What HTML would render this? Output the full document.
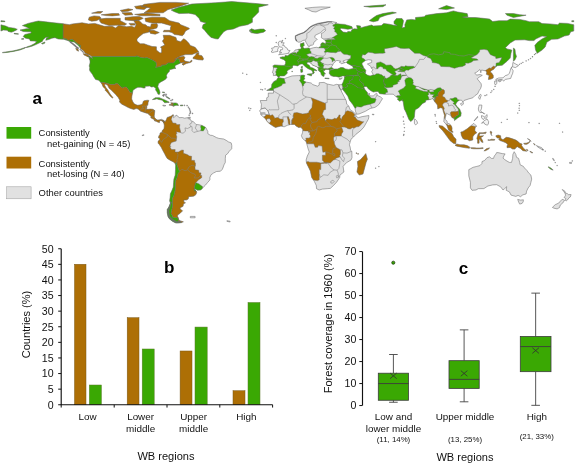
<!DOCTYPE html>
<html><head><meta charset="utf-8"><title>Forest transition figure</title>
<style>
html,body{margin:0;padding:0;background:#fff;}
body{width:575px;height:464px;overflow:hidden;position:relative;font-family:"Liberation Sans",Arial,sans-serif;color:#111;}
svg{position:absolute;left:0;top:0;}
text{font-family:"Liberation Sans",Arial,sans-serif;fill:#111;}
.t{font-size:9.42px}.c{font-size:9.9px}.ax{font-size:10.6px}.ttl{font-size:11.05px}.sm{font-size:7.86px}.b{font-size:17.1px;font-weight:bold;fill:#000}
</style></head><body>
<svg width="575" height="464" viewBox="0 0 575 464">
<rect width="575" height="464" fill="#fff"/>
<g id="map">
<defs><path id="lnd" d="M298.5 42.2 L300.4 42 L302.8 40.6 L304.2 40.1 L305.2 40.6 L306.1 42.5 L307.6 45 L308.1 46.3 L310 46.3 L310.4 45.2 L312.5 45.2 L313.5 44.2 L313.9 42.2 L316.3 40.3 L317.3 39.3 L315.7 38.2 L314.7 37.4 L315.2 35.3 L319.8 33.1 L321.9 31.7 L323.3 29.9 L324.9 29.8 L325.6 30.4 L324.3 31.7 L322.7 32.8 L321.1 33.8 L321.6 35 L321.3 37.7 L323.8 39.2 L326.4 39 L330.3 38.2 L333.5 38.2 L335.4 39.2 L331.9 39.6 L328 39.6 L324.8 40.3 L326 41.7 L325.6 43.8 L323.2 42.7 L321.9 42.8 L320.8 44.1 L320.8 46.5 L319.2 47.1 L318.4 47.9 L316.8 47.3 L313.6 47.7 L310.1 48.7 L308.9 47.9 L306.5 48.2 L304.6 48.5 L303 47.4 L303 46.5 L304.6 45 L303.8 44.6 L304.1 42.7 L303.3 42.8 L300.4 43.8 L300.4 46.2 L301.2 47.7 L300.9 49 L298.5 49.3 L295 50.1 L294.1 51.4 L293.1 52.5 L291.3 53.2 L289.9 54.1 L287.7 55.7 L285 55.5 L284.8 57 L282.6 56.8 L280 57.4 L280.2 58.2 L283.9 59.7 L285.6 61.3 L285.5 63.5 L284.5 65.4 L281.8 65.4 L278.6 65.2 L274.6 64.9 L272.7 65.9 L273.4 66.8 L273.4 69.2 L272.4 72.7 L273.4 73.2 L273.4 75.6 L276.2 75.3 L277.3 76.2 L278.5 77.2 L280.2 76 L284.2 75.9 L286.3 74.3 L287.4 72.9 L286.9 71.6 L288.2 70 L290.6 68.7 L292.5 67.8 L292.5 66 L293.7 65.2 L295.3 65.4 L297.7 65.9 L299.3 64.8 L300.9 64 L302.5 64 L303.8 65.2 L305.7 67 L308.1 68.7 L310.4 69.7 L312 70.6 L312.8 72.4 L312.4 74 L313.2 74 L314.4 72.5 L313.8 71.4 L314.4 70.2 L316.5 71 L316.7 70.3 L312.8 67.9 L310.4 67.3 L309.2 65.2 L307.1 64.1 L306.9 62.4 L309.2 61.9 L309.7 62.5 L311.2 63.6 L312.8 65.2 L316.8 66.8 L318.2 67.9 L318.4 70.5 L320.8 72.4 L321.1 74.3 L322.4 76 L324 76.4 L324.3 74.1 L325.6 74 L324.8 73.2 L323.7 71.6 L323.5 70.2 L324.8 70.5 L325.6 69.4 L328.7 69.5 L329.2 70 L331.1 69.4 L333.5 68.7 L331.9 67.8 L331.6 66.5 L332.7 65.2 L333.2 63.6 L334.6 62.5 L335.1 61.6 L336.7 60.5 L338.3 60.6 L340.7 61.3 L339.3 62.2 L340.7 62.9 L341.5 63.8 L343.9 63 L345.5 62.4 L343.5 62.2 L343.1 60.9 L345.5 60.1 L348.3 59.5 L349.4 59.5 L347.8 60.5 L346.3 62.4 L347.1 63.2 L349.4 64.4 L352.6 66.3 L353.4 68.4 L348.6 69.4 L345.5 68.9 L343.1 67.6 L340.7 67.6 L337.5 68.9 L334.3 69 L329.4 70.5 L329.5 71.6 L329.2 73.2 L330.8 75.6 L333.5 76.4 L335.9 76.4 L339.1 77.2 L342.3 76 L344.7 76 L344.3 78.8 L343.1 82.2 L341.8 84.6 L338.8 84.8 L339.1 86.9 L340.2 89.1 L342 90.2 L342.9 87.5 L343.1 89.9 L345.5 93.1 L347.8 96.2 L349.4 100.2 L352.6 104.2 L355 108.2 L355.5 111.3 L356.6 114.2 L359 114 L365.4 111.3 L370.1 108.5 L374.9 107.4 L377.3 105.8 L379.2 104.2 L380.5 101.8 L382.5 98.6 L380.5 96.9 L377.3 95.4 L377 93.9 L376.5 93.1 L373.3 95.9 L370.9 95.9 L369.5 95.4 L369.3 93.1 L368.2 94.7 L367.3 92.3 L366.1 91 L364.6 89.1 L363.8 87 L365 86.4 L366.9 86.7 L368.5 89.1 L370.9 90.7 L373.3 92.1 L376.5 91.5 L378.1 91.5 L379.7 93.7 L385.2 94.3 L389.2 94.2 L393.2 94.2 L394.5 95.4 L396.4 97 L398.8 98.1 L397.2 99.1 L399.6 101.3 L402.8 99.7 L402 101 L403.1 101 L403.5 104.2 L404.3 109 L405.9 112.1 L407.5 116.1 L408.8 119.3 L410.7 121.5 L413.1 119.6 L414.4 116.9 L414.7 112.9 L415.2 109.8 L418.7 107.8 L422.6 103.4 L425.5 102.1 L425.8 100.2 L429 99.7 L431.4 99.1 L433 98.6 L433.8 100.2 L435.4 102.6 L437.4 105 L437.8 109 L440.2 107.7 L442.5 108.2 L443 110.6 L444.5 115.3 L444.1 118.5 L443.8 121.7 L446 124.1 L447 125.7 L448.6 129.9 L451.9 132.3 L453.2 132.2 L451.9 130.4 L452.1 128 L451.3 125.7 L449.2 123.7 L447.3 123.3 L447 121.2 L445.2 119.3 L445.7 116.1 L446.5 113.1 L448.1 114.2 L450.5 115.3 L452.1 117.7 L454.2 118.5 L454.5 120.6 L457.7 117.9 L460.8 116.1 L461.2 112.9 L459.6 109 L456.9 106.6 L455.6 104.2 L457.2 101.8 L459.3 100.2 L461.6 100.2 L462.9 102.1 L464 100.5 L468.8 98.9 L472.8 97.8 L475.2 95.4 L477.6 93.9 L479.1 90.7 L480.7 88.3 L481.4 85.9 L481.2 83.8 L479.1 81.1 L477.2 78.8 L479.1 77.2 L482.3 75.3 L479.9 74.5 L476.8 75.1 L474.7 73.2 L476.8 72.1 L479.9 69.5 L481.2 72.4 L480.3 72.4 L481.5 70 L485.4 70.8 L486.8 71.9 L486.3 74.3 L489.2 75.6 L488.7 77.2 L488.4 79.5 L491.1 79.1 L493.2 78 L493.3 75.6 L491.9 73.2 L490.3 71.9 L491.1 70.8 L493.8 69.2 L495.4 67.1 L497.4 65.7 L502.2 65.2 L507 61.3 L510.2 58.1 L511 53.3 L511.8 50.1 L507 48.9 L505.4 47.7 L510.2 43 L515 40.1 L524.5 39.8 L529.3 40.6 L534.1 40.6 L535.6 39 L542 36.1 L546.8 36.6 L542 39 L537.2 42.5 L534.8 45.4 L535.6 50.1 L537.2 53.3 L542 50.1 L545.2 47 L546.8 42.2 L551.6 39.3 L557.9 39 L564.3 36.1 L569.1 35 L570.7 31.8 L573.8 31 L573.8 24.8 L567.5 23.4 L559.5 23.1 L557.9 24.7 L550 23.9 L542 23.6 L538.8 21.7 L529.3 21.7 L526.1 20.7 L519.7 19.4 L510.2 19.1 L507 20.7 L499 20.7 L492.7 21.5 L489.5 19.1 L483.1 18.3 L475.2 17.5 L467.2 17.5 L462.4 17.1 L468 16.7 L467.2 13.6 L457.7 12 L453.4 10.9 L446.5 12.8 L437 13.6 L425.8 15.2 L424.2 16.7 L415.5 17.5 L415.5 19.9 L411.5 19.4 L406.7 19.9 L404.8 24.7 L405.1 27.1 L402 27.9 L402.8 24.7 L403.5 20.7 L402 18.6 L396.4 18.6 L394 21.5 L394 23.7 L397.2 25.6 L394 25.3 L389.2 24.2 L383.7 23.4 L381.3 25.6 L373.3 26 L371.7 25 L363.8 26.9 L360.6 28 L360.6 26 L356.6 25.5 L357.4 29.1 L354.2 28.8 L351.8 29.8 L351 31.7 L347.8 31.4 L347.1 32.6 L343.1 32 L339.9 29 L341.5 28.3 L347.8 29.3 L352.6 28.5 L351.8 26.6 L344.7 24.4 L339.9 24.1 L335.1 23.6 L336.7 22.6 L331.9 21.5 L328 21.5 L322.4 22.6 L317.6 23.4 L312.8 25.2 L309.7 27.1 L306.5 30.3 L303.3 32.6 L298.5 34.2 L295.3 35.8 L295.3 39 L296.1 40.9Z M0.9 31 L3.3 30.1 L7.3 30.3 L8.1 31.4 L11.2 32.2 L12.8 31.8 L16 30.3 L17.3 29.3 L14.4 28.2 L8.9 27.4 L5.7 26 L0.9 24.8Z M278.6 54.7 L281.8 54.4 L285.8 53.8 L289.4 53 L288.6 52.4 L290.1 50.6 L287.8 50.1 L287.1 48.2 L285 47 L284.2 45.4 L282.6 45.4 L284.2 42.8 L281 42.7 L282.6 41.2 L279.4 41.2 L278.1 43 L278.6 45.4 L279.4 47 L281.8 47.1 L282.6 48.5 L282.3 49.7 L280.2 49.8 L280.7 51.2 L279.1 52 L281.8 52.7 L280.2 53.3Z M277.8 51.4 L277.7 49.3 L278.6 47.7 L277.3 46.6 L274.3 46.6 L273.8 47.9 L271.5 48.2 L272.3 49.7 L272.3 50.9 L271 51.7 L272.3 52.5 L274.6 52Z M251.6 32.8 L257.1 33.6 L263.5 32.2 L265.7 30.7 L263.8 29.1 L260.3 29.1 L254.7 29.9 L251.6 28.8 L249.2 30.3 L252.4 31.4 L249.5 31.4Z M307.3 74.6 L311.4 76 L312 73.7 L307.3 74Z M300.9 72.4 L302.6 72.1 L302.6 69.2 L300.6 69.2Z M301.2 67.9 L302.2 68.6 L302.5 66.3 L301.2 66.7Z M324.9 78.4 L329.1 78.8 L329.1 78.3 L324.9 78Z M339.3 79.2 L341.2 79.2 L342.3 77.8 L338.9 78.8Z M308.9 9.9 L312 11.5 L316 12 L320.8 9.7 L325.6 8.5 L330.3 7.2 L320.8 6.9 L312.8 7.4 L304.9 8.3Z M373.3 21.8 L378.1 20.7 L379.7 17.5 L386 15.2 L396.4 12.8 L392.4 12 L382.9 13.6 L376.5 15.5 L372.5 18.3 L369.3 20.7Z M370.1 7.2 L382.9 6.7 L386 4.8 L374.9 5.6 L363.8 6.4Z M446.5 9.6 L454.5 8 L446.5 5.6 L438.6 8.8Z M507 15.2 L513.4 17.5 L526.1 15.2 L519.7 14.7 L513.4 13.6 L505.4 13.6Z M513.4 53.3 L513.4 57.3 L513.4 61.3 L515 59.7 L516.5 56.5 L515.4 53.3 L515 49.3 L513.4 48.1Z M512.6 66.8 L515.3 67.6 L518.6 65.6 L515.8 64.1 L512.9 62.4 L512.6 66 L510.7 68.4Z M510.5 69.2 L510.2 70.8 L509.4 73.2 L507.8 74.9 L505.4 75.6 L503 77.8 L498.6 78 L495.9 79.2 L495.9 80.3 L498.2 79.9 L502.2 79.4 L503.5 81.1 L505.4 79.4 L508.6 78.8 L510.7 78.4 L511.5 75.9 L512.6 73.5 L513.2 70.8 L511.6 68.4Z M494.6 83.5 L495.4 85.1 L496.7 83.5 L497 81 L494.7 81Z M499 81.9 L500.9 81.3 L501.4 80 L498.2 80.3Z M479.6 95 L478.5 97.8 L479.8 99.4 L481.2 95.4 L480.7 94.3Z M461.6 105.5 L464 103.4 L463.2 102.6 L460.4 103.7Z M414.4 120.9 L414.4 123.3 L415.5 124.9 L417.6 123.3 L416.8 120.9 L414.7 118.8Z M478.8 106.6 L478.3 109 L478.8 111 L479.9 112.6 L482.3 112.5 L484.4 114 L484.7 113.7 L481.5 112.1 L480.7 110.6 L481.5 108.5 L481.9 105.1 L479.1 105Z M483.9 122.5 L484.7 124.1 L487.1 125.2 L488.2 124.4 L488.7 121.7 L487.1 119 L483.9 120.9 L481.5 123.3Z M481.5 117.4 L482.3 118.8 L483.6 119.6 L484.7 117.7 L486.3 118.5 L487.1 116.9 L487.1 114.5 L484.7 116.9 L483.1 116.1 L481.5 115.6Z M474.1 120.9 L477.6 117.7 L477.6 116.4 L475.2 119.3Z M461.3 135.2 L462.8 138.4 L464.8 139.5 L467.2 139.5 L469.6 140.8 L472.8 140 L472.8 136.8 L474.4 134.4 L476.8 132.8 L474.8 130.4 L475.2 127.6 L476.8 126.1 L474.7 124.4 L473.6 123.3 L472 124.9 L469.6 126.8 L467.2 128.8 L464.5 130.4 L462.4 131.7 L460.8 132Z M439.4 127.2 L442.5 130.4 L444.9 133.6 L447.8 137.6 L450.2 140.8 L453.7 143.5 L455.8 143.7 L456.1 139.2 L453.7 136.8 L452.1 133.6 L448.9 131.2 L446.5 129.6 L442.5 126.1 L439 125.5Z M456.9 146.2 L460.8 146.9 L465.6 147.8 L469.4 148.3 L469.6 146.9 L467.2 145.6 L464 144.8 L460 144.8 L456.9 144 L455 145.3Z M471.2 148.5 L473.6 148.8 L478.3 148.8 L483.1 148.5 L483.1 147.7 L479.9 148 L476.8 148 L473.6 147.7 L470.4 147.7Z M485.5 150.7 L488.7 149.1 L489.5 147.8 L486.3 148.8 L483.9 150.9Z M479.1 143.2 L479.1 140 L479.9 138.7 L480.7 140.8 L481.5 142.1 L483.1 142.4 L482.3 140 L480.7 137.6 L481.5 137.3 L483.6 135.7 L480.7 136 L479.1 135.7 L479.9 133.6 L485.5 133.6 L486.3 132 L483.1 132.8 L479.1 132.8 L478 134.4 L476.8 138.4 L477.6 140 L477.6 143.2Z M490.3 132.8 L490.8 133.6 L491.9 135.7 L491.1 134.4 L491.9 132 L490.3 131.2Z M487.9 140.3 L491.1 140.2 L494.3 140.2 L495.1 139.5 L491.1 139.2 L490 140 L487.9 139.7Z M495.9 136.5 L497.4 137.9 L499.8 138.1 L498.6 138.9 L499.8 140.5 L503 141.6 L506.2 142.9 L508.3 145.3 L507 145.6 L507 147.7 L510.2 147.5 L512.6 149.1 L515 149.1 L515.8 147.7 L517.3 146.7 L520.5 148.5 L522.9 150.7 L526.9 151.3 L526.1 150.4 L523.7 148.5 L521.6 145.6 L522.1 144 L519.7 143.2 L518.1 141.6 L515.8 140 L511.8 138.6 L508.6 137.6 L506.2 137.3 L503 139.7 L500.9 138.4 L500.6 135.7 L498.2 135 L495.9 135.7Z M524.5 144.3 L526.9 144.3 L529.3 142.7 L529.8 141.1 L528.5 142.4 L526.1 143.2 L523.7 143.3Z M529.3 139.8 L530.9 141.6 L530.1 140 L527.4 138.6Z M526.6 149.9 L527.7 150.7 L528.2 150.2 L526.6 149.3Z M530.1 151.8 L531.7 152.8 L532.9 152.8 L531.2 151.8 L529.9 151.2Z M534.5 145.1 L535.3 145.1 L533.6 143.2Z M468.8 169.6 L468.8 175.9 L470.4 182.3 L470.4 187.9 L472 190.3 L476 190 L478.3 188.7 L483.9 188.6 L487.9 186 L492.7 184.9 L496.7 184.7 L500.6 186.8 L503 190 L504.6 188.7 L506.7 186.7 L506.2 190.3 L507.8 191.1 L509.4 191.9 L511 195.1 L515.8 196.4 L518.1 195.4 L520.5 196.7 L522.9 194.8 L526.1 194 L526.6 191.1 L528.2 187.9 L530.1 185.5 L530.9 182.3 L531.7 179.1 L530.9 175.1 L528.5 172.8 L526.9 170.4 L524.5 168 L523.4 166.4 L520.2 164.8 L519.7 162.4 L518.6 158.4 L516.5 157.3 L515.8 154.4 L514.2 151.7 L512.9 154.4 L512.6 158.4 L511.5 162.4 L509.4 162.4 L507 161.1 L504.6 159.5 L503 158.1 L503.8 156 L505.1 153.9 L502.2 153.6 L499 152.8 L496.7 152.5 L495.9 154.1 L494.3 156 L493.5 158.4 L491.4 158.4 L489.5 156.8 L487.1 157.6 L484.7 160.4 L482 161.6 L481.9 163.5 L479.9 165.6 L476.8 166.4 L473.1 167.3 L470.4 168.8Z M518.6 202 L519.7 204.1 L522.1 203.4 L523.2 201.8 L523.4 199.8 L520.5 200.1 L517.7 199.4Z M563.5 191.1 L565.4 194 L565.4 195.9 L564 197.4 L565.9 198.6 L565.4 200.4 L566.2 200.9 L567.5 199.9 L569.1 197.7 L570.3 197 L571.1 194.6 L568.3 194.6 L567.2 193.5 L565.6 193.2 L564.8 191.1 L562.2 189.5Z M560.3 201.2 L558.7 203.1 L555.2 204.7 L552.4 207.4 L553.9 208.2 L557.1 208.9 L559.5 207.6 L560.3 205 L562.7 203.1 L564.6 200.2 L562.2 199.3Z M548.4 167.2 L550 168.8 L552.4 170 L553.2 170 L550.8 168 L548.4 166.7Z M569.5 163.3 L571.5 163.5 L571.6 162.4 L569.5 162.4Z M553.6 160.4 L554.4 160.8 L553.5 158.7 L552.5 158.4Z M538 147.2 L542 149.6 L543.6 150.1 L541.7 147.7 L536.4 145.6Z M276.5 80.2 L273.8 81.5 L271.8 84.3 L271.5 87.5 L266.7 90.4 L273.5 90.4 L273.5 93.1 L268.3 93.1 L268.3 97 L266.7 97.8 L266.7 100.5 L260.3 100.5 L260.3 101 L261.4 104.2 L261.1 109 L259.5 111 L260.6 112.1 L260.8 114.8 L263.5 116.9 L265.6 119.1 L266.7 120.9 L269.1 123.4 L273 126.1 L275.4 127.4 L281 126.1 L284.2 126.8 L287.4 125.3 L290.6 124.4 L294.5 124.4 L296.1 126.1 L298.5 127.4 L300.9 127.2 L302.8 129.6 L302.5 132.8 L301.4 135.7 L302.5 138.4 L306.1 141.6 L306.8 144 L308.1 148.8 L309.3 152 L307.3 156 L306.1 160 L306.5 163.2 L308.9 168 L310.4 171.2 L311.7 177.5 L314.4 181.5 L316.3 185.5 L316.5 188.7 L319.2 190 L322.4 189.1 L327.2 188.7 L330.3 188.4 L333.5 185.5 L336.7 182 L339.7 177.5 L339.9 175.1 L343.9 172 L343.1 166.4 L346.3 162.8 L351 160 L352 157.6 L351.8 151.2 L350.6 150.4 L350.2 147.2 L349.4 144.8 L350.2 141.9 L351 139.2 L353.4 137.1 L355.8 134.4 L360.6 130.7 L363.8 127.2 L366.6 122.3 L368.2 119.5 L368.7 117.9 L368.9 115.5 L362.2 116.6 L358.2 117.7 L355.8 116.1 L356.1 114.4 L352.6 111.3 L350.2 109.8 L348.6 105.8 L346.7 104.2 L346.3 101 L343.9 96.2 L340.7 89.9 L339.1 86.9 L338.8 84.8 L336.7 84.3 L333.5 85.3 L327.2 84 L324 82.4 L319.2 82.7 L319.2 85.1 L317.6 86.2 L312.8 84.6 L311.2 83 L306.5 82.2 L304.9 81.6 L303.3 80.3 L304.9 78.8 L304.2 77.5 L304.9 75.6 L303.3 75.1 L298.5 75.6 L292.1 75.9 L287.4 77.5 L284.2 78.6 L278 77.5Z M363.8 156 L360.6 159.6 L357.4 161.6 L357.9 166.4 L356.9 172 L359.3 175.1 L363 174 L366.1 162.4 L367.4 159.2 L365.8 153.6Z M23.2 31.5 L28 31.8 L31.1 31.8 L31.1 33.1 L27.2 33.9 L24.8 34.5 L23.2 36.6 L25.6 38.2 L29.5 39 L30.3 40.9 L34.3 41.1 L36.7 41.4 L35.1 43.3 L31.1 45.4 L28 46.5 L25.1 47.7 L28 47.3 L31.9 46.2 L35.9 44.6 L39.1 43 L42.3 41.4 L43.1 39.8 L45.5 37.4 L48.6 37.1 L46.3 38.2 L45.8 40.3 L49.4 39.3 L51.8 38.2 L55 37.7 L58.2 39 L63.8 39.3 L67.7 40.6 L70.1 41.7 L74.1 41.9 L77.3 44.6 L79.7 47 L80.5 48.5 L83.7 50.9 L85.2 53.3 L89.2 54.9 L91.9 56.5 L92.4 58.9 L91.6 57.6 L88.9 57.6 L90 60.8 L90 62.9 L89.2 66 L89.7 67.6 L89.5 70 L90.3 71.6 L92.4 74.3 L93.5 76.4 L95.6 79.5 L98.8 80.3 L101 82.7 L102 84.3 L103.2 87 L105.5 89.1 L105.1 90.2 L106.7 91.8 L108.6 93.9 L109.9 95.8 L112.3 98 L113.1 97.5 L111.8 96.2 L110.7 94.7 L109.1 92.3 L107.8 89.9 L105.9 87.5 L104.7 85.4 L104.8 83.8 L107.5 85.1 L109.1 88.3 L111.5 90.2 L113.4 92.3 L115.5 94.3 L118.2 97.5 L119.8 100.2 L119.5 102.1 L121.9 104.2 L125 105.8 L128.2 107.5 L130.6 108.5 L133.8 109.4 L136.2 108.6 L138.1 109 L140.6 111.2 L143.7 112.3 L145.7 112.9 L147.8 113.4 L148.9 114.4 L151 116.6 L150.8 117.7 L152.1 118.5 L154.2 119.6 L154.5 120.9 L156.1 121.2 L158 122.2 L159.6 122.6 L159.6 121.2 L160.8 120.4 L162.8 121.4 L163.6 122.8 L164.3 120.9 L164 120.6 L161.6 119.3 L160 119.8 L157.7 120.1 L156.1 119.3 L154.5 117.5 L154.2 116.1 L154.5 113.7 L154.8 110.6 L152.9 109.3 L150.5 109.1 L148.1 109.3 L146 109.1 L146.8 108.2 L146.8 105.3 L147.8 105.3 L148.1 102.6 L148.9 100.4 L147.3 100.2 L144.1 100.7 L143.3 101.3 L142.5 103.9 L141 104.7 L137.8 105.3 L136.2 104.8 L134.1 103.7 L132.7 101.5 L131.7 98.9 L131.9 96.2 L132.5 93.1 L133 90.2 L135.4 88.6 L137.8 87.3 L141 87.3 L143.3 88 L145.2 88 L144.9 86.4 L146.5 86.2 L149.7 86.1 L151.3 87 L153.7 86.7 L155.8 88.3 L155.6 89.9 L156.9 91.8 L158.1 94.3 L159.6 94.3 L160 92.3 L159.3 89.9 L157.8 86.7 L158.5 83.8 L160.8 81.9 L163.2 80.7 L165.6 79.2 L166.9 77.5 L166.4 75.6 L167.5 73.2 L169.3 71.6 L169.6 69.8 L173.6 68.7 L176 68.3 L174.9 67.6 L175.2 65.6 L177.6 64.4 L180.7 62.9 L184.7 62.4 L182 64 L183.1 65.2 L186.3 63.6 L190.3 62.5 L191.9 61.6 L191.9 60 L189.5 61.9 L187.1 61.6 L184.7 60.9 L183.9 59.4 L185 57.8 L183.9 56.2 L179.1 57.1 L174.4 59.8 L176.8 58.1 L180.7 56 L185.5 54.6 L191.9 54.6 L196.7 52.8 L198.7 51.7 L196.7 49.3 L195.1 47.3 L190.3 45.4 L188.7 43 L185.5 39.8 L183.6 38.7 L180.7 41.7 L176.8 40.6 L176 37.4 L169.6 35.3 L163.2 35.3 L164 39 L162.4 41.1 L164.8 44.9 L160.5 47 L161.6 48.5 L161.6 52.5 L160 53 L158.5 51.7 L156.4 50.1 L156.4 46.8 L152.1 46.5 L147.3 44.9 L144.1 43.8 L140.2 43.8 L137 40.9 L137 39 L139.4 36.6 L143.3 33.4 L147.3 32.6 L149.7 31.8 L150.5 29.5 L153.7 29 L156.9 27.9 L157.7 25.5 L156.9 23.6 L151.3 23.9 L150.5 27.1 L147.3 26.3 L145.7 24.7 L142.5 23.9 L141 22.3 L137.8 19.9 L133.8 20.7 L136.2 24.7 L134.6 27.4 L131.4 26.3 L126.6 26.8 L118.7 25.5 L115.5 27.9 L112.3 26.3 L104.3 26.3 L94.8 23.4 L88.4 23.9 L82.1 22.8 L72.5 23.9 L69.3 24.7 L63 23.7 L51.8 22.6 L45.5 21.8 L38.3 21 L35.9 21.5 L28 23.4 L22.4 25.6 L26.4 27.1 L29.5 28.7 L26.4 28.7 L20 30.1Z M25.1 47.4 L20 49.2 L13.6 50.8 L7.3 51.7 L2.5 52.4 L2.5 52.8 L7.3 52.4 L13.6 51.4 L20 50 L24.8 48.2Z M42.6 44.1 L45 43 L44.7 41.9 L41.5 43.5Z M21.6 39.3 L23.7 39.3 L23.7 38.4 L21.6 38.7Z M14.1 33.9 L18.4 34.2 L18.4 33.8 L14.1 33.3Z M84 54.9 L88.4 57 L90.8 57.6 L90.8 57.1 L87.6 54.4 L83.2 53.6Z M76.8 50.4 L78.6 51.2 L77.8 48.5 L75.7 48.5Z M193 58.6 L198.2 59.7 L203 60.1 L203.5 58.6 L201.9 55.7 L198.6 54.9 L199 52.5 L196.7 53.3 L195.1 55.7 L193 57.6Z M158.5 17.2 L152.1 17.2 L144.9 18.3 L145.7 21.5 L152.1 23.1 L155.3 23.1 L161.6 23.1 L164.8 23.9 L171.2 25.8 L170.4 27.9 L170.4 30.3 L164 30.3 L163.2 31.8 L168.8 31.8 L172 32.6 L174.4 34.5 L178.4 35 L182.3 35.8 L183.9 34.2 L185.5 31 L189.5 28.7 L188.7 27.9 L180.7 24.7 L179.1 23.1 L169.6 20.7 L164.8 17.5 L159.3 17.2Z M101.2 23.1 L109.1 25.5 L115.5 25.2 L125 25.2 L126.6 23.9 L123.4 22.3 L120.3 20.7 L120.3 18.3 L115.5 18.3 L105.9 18.3 L99.6 19.1 L99.6 21Z M88.4 19.9 L91.6 21.2 L96.4 20.7 L101.2 18.3 L99.6 16.4 L94 15.9 L89.2 17.2Z M144.1 12.8 L163.2 12.8 L168 9.6 L179.1 6.4 L188.7 3.2 L176 2.4 L160 2.4 L144.1 4.3 L141 6.4 L150.5 8 L147.3 10.4Z M136.2 8.8 L144.1 9.6 L147.3 7.2 L141 5.6 L134.6 6.4Z M141 15.8 L160 15.8 L160 14.4 L147.3 13.1 L134.6 14.4Z M105.9 15.6 L112.3 15.9 L119.5 15.2 L118.7 13.6 L112.3 13.6 L101.2 14.8Z M125 15.2 L133 14.8 L131.4 12.6 L121.9 12.8Z M100.4 13.2 L102.8 11.5 L98 11.5 L91.6 13.2Z M121.9 11.7 L128.2 11.2 L133 9.6 L128.2 8.8 L120.3 10.4Z M150.5 33.4 L155.3 34.2 L159.3 32.6 L153.7 30.3 L148.9 30.3Z M125 19.9 L133 20.7 L139.4 20.2 L143.3 18.3 L139.4 16.4 L133 16.7 L125 17.5Z M130.6 25.2 L135.4 25 L134.6 23.4 L129 23.4Z M174.4 11.7 L179.1 13.6 L188.7 13.2 L195.1 14.4 L199 18.3 L200.6 21.5 L206.2 23.1 L203 24.7 L202.2 27.9 L204.6 30.3 L207.8 34.2 L211 37.4 L215.8 38.8 L218.1 39 L220.5 35.8 L223.7 31.8 L226.9 29.9 L233.3 29 L239.6 26.3 L247.6 24.7 L252.4 22.3 L252.4 18.3 L255.5 15.2 L258.7 12 L258.7 7.2 L268.3 4.8 L252.4 3.2 L231.7 1.6 L215.8 2.7 L191.9 4 L179.1 7.2 L171.2 10.1Z M154.5 99.4 L156.9 98.8 L158.5 99.4 L162.4 100.2 L163.6 101.8 L164.8 102.8 L169.3 102.3 L168 101.5 L164.8 99.9 L159.3 97.7 L155.3 97.8 L152.4 99.6Z M169 105.1 L172 105.5 L173.3 106.3 L176 105.3 L178.5 105.5 L177.6 103.7 L176 102.9 L173.3 102.9 L170.7 102.8 L171.7 104.2 L169.1 104.8Z M162.9 105.8 L164.8 106.1 L165.9 105.6 L162.8 105.1Z M180.4 105.8 L182.6 105.8 L183 105.1 L180.4 105Z M188.9 118.3 L190.3 118.3 L190.3 117.2 L188.9 117.4Z M162.4 92.4 L164.5 92.7 L164.5 92.1 L162.4 91.9Z M162.9 95.9 L163.9 96.2 L163.9 94.8 L162.9 94.7Z M163.6 122.8 L164 123.7 L164.3 125.7 L164 128.8 L162.4 130.3 L161.8 132.2 L160 133.1 L159.9 134.4 L158.8 136 L158.5 137.9 L160 138.4 L159.6 139.8 L158 141.3 L158.1 143.2 L159.3 144.5 L161.2 147.2 L162.8 150.4 L164.5 153.6 L165.9 156.3 L167.2 158.4 L170.4 160.4 L173.6 162 L175.3 163.8 L175.6 165.6 L175.5 169.6 L175.2 175.1 L173.9 179.1 L173.6 182.3 L173.3 187.1 L171.7 191.1 L170.4 193.8 L170.1 197.5 L169.6 200.7 L170.4 203.1 L168.8 207.1 L167.2 209.5 L167.2 212.7 L168 216.7 L169.6 219.1 L172.8 221.5 L176 223.1 L178.4 223.1 L181.5 222.6 L183.4 221.8 L179.9 220.7 L178.4 219.1 L178.5 218 L177.6 216.7 L177.6 215.1 L179.9 213.5 L182.6 210.8 L180.7 209.5 L179.9 207.9 L183.1 206.3 L183.4 203.9 L185.5 202.8 L183.9 202 L183.9 199.9 L186.3 200.1 L188.2 199.1 L188.7 196.7 L193.5 196.2 L195.5 195.1 L196.7 192.7 L196.3 191.1 L194.4 189.5 L194.6 188.7 L197.5 190.2 L200.6 190 L202.2 188.7 L204.1 186.3 L205.4 185.2 L207.8 182.3 L209.9 179.9 L209.9 177.5 L211 174.8 L213.4 173.1 L216.5 171.5 L220.5 171.2 L222.1 169.6 L222.9 168 L224 164.8 L225.3 162.4 L225.3 158.4 L225.6 155.2 L227.7 153.6 L229.3 151.2 L231.7 148.8 L231.8 145.6 L231.2 142.9 L228.5 141.9 L226.1 140.3 L223.7 139 L218.9 138.4 L216.5 137.6 L212.6 135.5 L210.2 135.2 L207.8 133.6 L207.8 131.5 L205.9 127.7 L204.6 126.8 L202.2 125.5 L199.8 124.9 L195.9 124.4 L193.5 121.7 L191.1 120.9 L190.3 119.3 L187.9 118.5 L188.7 117.4 L184.7 118.2 L182.3 117.5 L179.1 117.7 L178.4 116.6 L176 115 L176 115.6 L173.6 117.7 L173.3 116.9 L173.9 115 L172.8 114.8 L171.2 116.1 L168.8 116.9 L167.2 117.4 L166.4 119.6 L165.1 121.7 L164.3 120.9Z M190.3 217.8 L195.1 217.8 L195.1 216.4 L190.3 216.4Z M226.9 221.3 L230.1 222 L230.1 221.2 L226.9 220.7Z M162.9 96.1 L163.9 96.2 L163.9 95.5 L162.8 95.3Z M165.5 96.2 L166.4 96.4 L166.5 95.7 L165.4 95.4Z M166.6 97.4 L167.5 97.5 L167.6 96.8 L166.5 96.6Z M167.5 98.1 L168.5 98.3 L168.6 97.6 L167.5 97.4Z M168.8 98.9 L169.8 99.1 L169.8 98.4 L168.7 98.1Z M170.6 100.9 L171.5 101 L171.6 100.3 L170.5 100.1Z M172 100.1 L172.9 100.2 L173 99.5 L171.9 99.3Z M163.9 94.8 L164.8 95 L164.9 94.3 L163.8 94Z M165.6 94.7 L166.6 94.8 L166.7 94.1 L165.5 93.9Z M184 105.7 L184.8 105.7 L184.8 105 L184 104.9Z M186.7 106 L187.5 106 L187.5 105.3 L186.7 105.2Z M188 107.6 L188.8 107.6 L188.8 106.9 L188 106.8Z M188.9 109 L189.7 109 L189.7 108.3 L188.9 108.2Z M189.4 110.3 L190.2 110.3 L190.2 109.6 L189.4 109.5Z M189.9 111.6 L190.7 111.6 L190.7 110.9 L189.9 110.8Z M190 112.7 L190.8 112.7 L190.8 112 L190 111.9Z M189.6 113.8 L190.4 113.8 L190.4 113.1 L189.6 113Z M188.8 115.6 L189.6 115.6 L189.6 114.8 L188.8 114.8Z M192.1 113.8 L192.9 113.8 L192.9 113.1 L192.1 113Z M519.1 64.5 L519.7 64.5 L519.7 64 L519.1 64Z M520.8 63.6 L521.5 63.6 L521.5 63.1 L520.8 63.1Z M522.6 62.6 L523.2 62.6 L523.2 62.1 L522.6 62.1Z M525.8 61.2 L526.4 61.2 L526.4 60.7 L525.8 60.7Z M528.2 60.1 L528.8 60.1 L528.8 59.6 L528.2 59.6Z M530.2 58.8 L530.9 58.8 L530.9 58.3 L530.2 58.3Z M532.1 57.1 L532.8 57.1 L532.8 56.6 L532.1 56.6Z M534.2 54.8 L534.8 54.8 L534.8 54.3 L534.2 54.3Z M535.5 54 L536.1 54 L536.1 53.5 L535.5 53.5Z M494.7 86.5 L495.4 86.5 L495.4 86 L494.7 86Z M493.5 89.7 L494.1 89.7 L494.1 89.1 L493.5 89.1Z M491.6 91.2 L492.2 91.2 L492.2 90.7 L491.6 90.7Z M490.6 92.7 L491.2 92.7 L491.2 92.2 L490.6 92.2Z M486.5 95.2 L487.1 95.2 L487.1 94.7 L486.5 94.7Z M484.7 95.9 L485.4 95.9 L485.4 95.3 L484.7 95.3Z M275.9 36.1 L276.5 36.1 L276.5 35.6 L275.9 35.6Z M285 38.8 L285.6 38.8 L285.6 38.3 L285 38.3Z M282.3 40.8 L282.9 40.8 L282.9 40.3 L282.3 40.3Z M275.9 42.8 L276.5 42.8 L276.5 42.2 L275.9 42.2Z M291.8 71.7 L292.5 71.7 L292.5 71.2 L291.8 71.2Z M262.2 90.1 L262.9 90.1 L262.9 89.6 L262.2 89.6Z M260.6 89.7 L261.3 89.7 L261.3 89.1 L260.6 89.1Z M264.8 89.2 L265.4 89.2 L265.4 88.7 L264.8 88.7Z M249.5 110.6 L250.1 110.6 L250.1 110.1 L249.5 110.1Z M248.5 108.3 L249.2 108.3 L249.2 107.8 L248.5 107.8Z M250.4 108.9 L251.1 108.9 L251.1 108.4 L250.4 108.4Z M246.5 74.6 L247.1 74.6 L247.1 74 L246.5 74Z M242.5 73.4 L243.1 73.4 L243.1 72.9 L242.5 72.9Z M260 82.7 L260.6 82.7 L260.6 82.2 L260 82.2Z M434.7 114.8 L435.4 114.8 L435.4 114.3 L434.7 114.3Z M434.9 116.2 L435.5 116.2 L435.5 115.7 L434.9 115.7Z M435.9 121.9 L436.5 121.9 L436.5 121.4 L435.9 121.4Z M436.3 123.5 L437 123.5 L437 123 L436.3 123Z M402.9 117.2 L403.5 117.2 L403.5 116.7 L402.9 116.7Z M403.2 121.5 L403.9 121.5 L403.9 120.9 L403.2 120.9Z M403.7 124.3 L404.3 124.3 L404.3 123.8 L403.7 123.8Z M404 128 L404.7 128 L404.7 127.5 L404 127.5Z M403.9 131.5 L404.5 131.5 L404.5 131 L403.9 131Z M403.5 134.7 L404.2 134.7 L404.2 134.1 L403.5 134.1Z M403.4 135.6 L404 135.6 L404 135.1 L403.4 135.1Z M378.6 166.9 L379.2 166.9 L379.2 166.4 L378.6 166.4Z M375.4 168.4 L376 168.4 L376 167.9 L375.4 167.9Z M356 153.4 L356.6 153.4 L356.6 152.8 L356 152.8Z M357.7 154.2 L358.4 154.2 L358.4 153.6 L357.7 153.6Z M375.4 142 L376 142 L376 141.5 L375.4 141.5Z M518.9 110.5 L519.6 110.5 L519.6 110 L518.9 110Z M519.1 106 L519.7 106 L519.7 105.5 L519.1 105.5Z M517.5 113.3 L518.1 113.3 L518.1 112.8 L517.5 112.8Z M518.8 108.4 L519.4 108.4 L519.4 107.9 L518.8 107.9Z M518.9 103.6 L519.6 103.6 L519.6 103.1 L518.9 103.1Z M501.1 122.7 L501.7 122.7 L501.7 122.2 L501.1 122.2Z M506.8 119.5 L507.5 119.5 L507.5 119 L506.8 119Z M528.6 122.9 L529.3 122.9 L529.3 122.4 L528.6 122.4Z M538.8 123.7 L539.5 123.7 L539.5 123.2 L538.8 123.2Z M142.2 135.6 L142.9 135.6 L142.9 135.1 L142.2 135.1Z M143.3 135.3 L144 135.3 L144 134.8 L143.3 134.8Z M554.9 162.9 L555.5 162.9 L555.5 162.4 L554.9 162.4Z M556.8 165.8 L557.4 165.8 L557.4 165.3 L556.8 165.3Z M542.5 150 L543.1 150 L543.1 149.5 L542.5 149.5Z M544.9 151.4 L545.5 151.4 L545.5 150.9 L544.9 150.9Z M559.2 123.5 L559.8 123.5 L559.8 123 L559.2 123Z M562.4 132.3 L563 132.3 L563 131.8 L562.4 131.8Z M571.9 161.2 L572.6 161.2 L572.6 160.7 L571.9 160.7Z M372.4 114.7 L373.9 114.8 L374.1 114.4 L372.2 114.2Z M0.9 21.7 L4.9 21.7 L4.9 21 L0.9 20.7Z M571.8 21.7 L573.8 21.7 L573.8 20.7 L571.8 20.7Z"/><clipPath id="lc"><use href="#lnd"/></clipPath></defs>
<use href="#lnd" fill="#e1e1e1" stroke="none"/>
<path d="M278.6 54.7 L281.8 54.4 L285.8 53.8 L289.4 53 L288.6 52.4 L290.1 50.6 L287.8 50.1 L287.1 48.2 L285 47 L284.2 45.4 L282.6 45.4 L284.2 42.8 L281 42.7 L282.6 41.2 L279.4 41.2 L278.1 43 L278.6 45.4 L279.4 47 L281.8 47.1 L282.6 48.5 L282.3 49.7 L280.2 49.8 L280.7 51.2 L279.1 52 L281.8 52.7 L280.2 53.3Z M277.8 51.4 L277.7 49.3 L278.6 47.7 L277.3 46.6 L274.3 46.6 L273.8 47.9 L271.5 48.2 L272.3 49.7 L272.3 50.9 L271 51.7 L272.3 52.5 L274.6 52Z M510.7 68.4 L512.6 66 L512.9 62.4 L515.8 64.1 L518.6 65.6 L515.3 67.6 L512.6 66.8Z M511.6 68.4 L513.2 70.8 L512.6 73.5 L511.5 75.9 L510.7 78.4 L508.6 78.8 L505.4 79.4 L503.5 81.1 L502.2 79.4 L498.2 79.9 L495.9 80.3 L495.9 79.2 L498.6 78 L503 77.8 L505.4 75.6 L507.8 74.9 L509.4 73.2 L510.2 70.8 L510.5 69.2Z M494.7 81 L497 81 L496.7 83.5 L495.4 85.1 L494.6 83.5Z M498.2 80.3 L501.4 80 L500.9 81.3 L499 81.9Z M480.7 94.3 L481.2 95.4 L479.8 99.4 L478.5 97.8 L479.6 95Z M460.4 103.7 L463.2 102.6 L464 103.4 L461.6 105.5Z M414.7 118.8 L416.8 120.9 L417.6 123.3 L415.5 124.9 L414.4 123.3 L414.4 120.9Z M479.1 105 L481.9 105.1 L481.5 108.5 L480.7 110.6 L481.5 112.1 L484.7 113.7 L484.4 114 L482.3 112.5 L479.9 112.6 L478.8 111 L478.3 109 L478.8 106.6Z M481.5 123.3 L483.9 120.9 L487.1 119 L488.7 121.7 L488.2 124.4 L487.1 125.2 L484.7 124.1 L483.9 122.5Z M481.5 115.6 L483.1 116.1 L484.7 116.9 L487.1 114.5 L487.1 116.9 L486.3 118.5 L484.7 117.7 L483.6 119.6 L482.3 118.8 L481.5 117.4Z M474.1 120.9 L477.6 117.7 L477.6 116.4 L475.2 119.3Z" fill="#f3f3f3" stroke="none"/>
<g clip-path="url(#lc)">
<path d="M63 19.9 L63 38.5 L66.2 39 L68.5 40.7 L70.1 39.8 L72.5 39.5 L74.9 41.4 L77.3 43.8 L80.5 45.4 L80.5 47.4 L74.1 47.7 L74.1 53.3 L86.8 57.8 L91.1 57.6 L91.1 56.5 L135.9 56.5 L136.7 55.9 L141 57.6 L144.9 58.1 L146.8 57.6 L152.4 60 L154.5 61.3 L156.1 62.4 L156.4 66 L155.3 67.6 L161.6 66.3 L161.6 65.2 L165.6 64.9 L168 62.9 L173.6 62.9 L175.5 60.8 L177.2 59 L179.1 59.2 L179.5 61.6 L180.7 63.2 L183.9 67.6 L207.8 64.4 L207.8 47 L195.1 35.8 L195.1 26.3 L183.9 19.9 L172.8 13.6 L168 11.2 L172.8 8.8 L182.3 6.1 L191.9 3.5 L191.9 -0.8 L80.5 -0.8 L80.5 19.9Z" fill="#ad6f05" stroke="#6a6a6a" stroke-width="0.45"/>
<path d="M86.8 56.5 L135.9 56.5 L136.7 55.9 L141 57.6 L144.9 58.1 L146.8 57.6 L152.4 60 L154.5 61.3 L156.1 62.4 L156.4 66 L155.3 67.6 L161.6 66.3 L161.6 65.2 L165.6 64.9 L168 62.9 L173.6 62.9 L175.5 60.8 L177.2 59 L179.1 59.2 L179.5 61.6 L180.7 63.2 L183.9 66 L179.1 74 L169.6 86.7 L161.6 96.2 L156.9 96.2 L153.7 89.9 L144.1 89.9 L134.6 93.9 L132.7 93.2 L129.8 92.3 L129 90.7 L126.6 87.3 L124.2 87 L123.1 88.3 L121.1 87.2 L117.9 83.8 L115.2 83.8 L115.2 84.6 L110.7 84.6 L104.7 82.7 L101 82.7 L98 83.5 L86.8 70.8Z" fill="#3aa803" stroke="#6a6a6a" stroke-width="0.45"/>
<path d="M63 21.5 L63 38.5 L66.2 39 L68.5 40.7 L70.1 39.8 L72.5 39.5 L74.9 41.4 L77.3 43.8 L80.5 45.4 L80.5 47.4 L74.1 47.7 L64.6 42.2 L48.6 45.4 L32.7 51.7 L0.9 54.9 L0.9 45.4 L16.8 39 L12 34.2 L19.2 29.5 L20 23.1 L40.7 19.1Z" fill="#3aa803" stroke="#6a6a6a" stroke-width="0.45"/>
<path d="M98 83.5 L101 82.7 L104.7 82.7 L110.7 84.6 L115.2 84.6 L115.2 83.8 L117.9 83.8 L121.1 87.2 L123.1 88.3 L124.2 87 L126.6 87.3 L129 90.7 L129.8 92.3 L132.7 93.2 L134.6 93.9 L150.5 96.2 L150.5 101 L149.7 107.4 L156.9 109 L156.9 118.5 L164.3 120.6 L164 123.3 L160 124.9 L136.2 115.3 L109.1 102.6 L96.4 86.7Z" fill="#ad6f05" stroke="#6a6a6a" stroke-width="0.45"/>
<path d="M168 10.4 L179.1 6.7 L191.9 3.5 L215.8 0.8 L271.5 0.8 L271.5 23.1 L239.6 31 L218.9 42.2 L204.6 35.8 L198.2 26.3 L191.9 15.2 L176 14.4Z" fill="#3aa803" stroke="#6a6a6a" stroke-width="0.45"/>
<path d="M246 34.2 L268.3 34.2 L268.3 27.9 L246 27.9Z" fill="#3aa803" stroke="#6a6a6a" stroke-width="0.45"/>
<path d="M150.5 103.1 L169.6 103.1 L169.6 97 L150.5 97Z" fill="#3aa803" stroke="#6a6a6a" stroke-width="0.45"/>
<path d="M173.3 107.4 L179.1 107.4 L179.1 102.3 L173.3 102.3 L172.9 104.5Z" fill="#3aa803" stroke="#6a6a6a" stroke-width="0.45"/>
<path d="M179.9 106.3 L183.4 106.3 L183.4 104.5 L179.9 104.5Z" fill="#3aa803" stroke="#6a6a6a" stroke-width="0.45"/>
<path d="M173.9 114.4 L172.3 116.6 L171.2 119.3 L172 121.2 L172.8 123 L176 123.3 L176.8 124.7 L179.9 124.5 L179.5 127.2 L180.3 130.4 L180.7 132.5 L176.3 131.7 L176.8 133.6 L176 134.7 L176.8 136.8 L176.1 141.1 L171.5 142.4 L169.9 145.3 L170.9 146.4 L169.6 146.4 L171.5 149.6 L175.2 149.6 L175 152 L176.8 152 L178.4 152 L181.5 150.2 L183.4 150.1 L183.4 153.3 L187.1 154.5 L189.5 156 L191.6 156.3 L191.4 160.3 L194.6 160.4 L194.6 162 L195.5 163.2 L195.4 166 L194.9 166.7 L195.2 169.7 L198.7 170.2 L199 172.8 L201 172.9 L200.5 175.3 L201.7 175.5 L201.7 177.7 L198.6 179.8 L195.7 182.7 L194.7 186.3 L194.4 188.7 L199.8 193.5 L195.1 198.3 L185.5 211.1 L186.3 223.9 L178.2 225.5 L178.2 218.6 L176.8 217.8 L172.9 217.5 L172.1 215.4 L170.9 213.5 L171.6 210.3 L172.5 206.3 L172.5 201.5 L172.4 198.3 L173.7 195.9 L174.5 192.7 L175.2 189.5 L175.2 187.1 L175.2 183.9 L175.6 180.7 L176.8 178.3 L177.6 175.1 L178 173.6 L180 171.2 L178.6 169.9 L178.1 168 L177.6 166.4 L176.8 164.8 L176.8 162.5 L175.3 163.7 L169.6 163.2 L160 153.6 L153.7 142.4 L156.9 132.8 L160 126.5 L161.6 121.7 L164.3 120.7 L166.4 118.5 L169.6 114.5Z" fill="#ad6f05" stroke="#6a6a6a" stroke-width="0.45"/>
<path d="M175.3 163.7 L176.8 162.5 L176.8 164.8 L177.6 166.4 L178.1 168 L178.6 169.9 L180 171.2 L178 173.6 L177.6 175.1 L176.8 178.3 L175.6 180.7 L175.2 183.9 L175.2 187.1 L175.2 189.5 L174.5 192.7 L173.7 195.9 L172.4 198.3 L172.5 201.5 L172.5 206.3 L171.6 210.3 L170.9 213.5 L172.1 215.4 L172.9 217.5 L176.8 217.8 L178.2 218.6 L178.2 222.1 L181.9 222.4 L181.5 225.5 L163.2 225.5 L163.2 163.2Z" fill="#3aa803" stroke="#6a6a6a" stroke-width="0.45"/>
<path d="M195.7 182.7 L198.2 183.5 L199 183.9 L201.7 186 L202.7 186.8 L202.4 188.4 L203.8 191.9 L194.3 191.1 L194.4 188.7 L194.7 186.3Z" fill="#3aa803" stroke="#6a6a6a" stroke-width="0.45"/>
<path d="M201.4 124.5 L200.6 126.8 L201.1 128.8 L200.6 130.7 L203.2 130.9 L203.8 130.3 L205.1 127.9 L206.2 126.5 L203 124.1Z" fill="#3aa803" stroke="#6a6a6a" stroke-width="0.45"/>
<path d="M336.4 22.8 L339.9 19.9 L351 4 L462.4 4 L526.1 10.4 L573.8 18.3 L573.8 32.6 L565.9 39 L550 48.5 L538.8 56.5 L519.7 58.9 L515.8 61.3 L511.8 61.3 L507 64.4 L499 67.6 L495.4 67.3 L495.2 67 L495.9 66 L496.2 63 L499 62.7 L501.3 59 L501.7 57.4 L499 57.9 L495.9 58.6 L495.5 56.6 L493.5 55.9 L490.3 54.6 L487.6 50.1 L484.1 49.3 L479.9 49.7 L479.5 50.8 L479.5 51.7 L477.1 54.6 L474.8 55.7 L471.2 57.8 L472 58.2 L476.8 58.9 L478.2 60.1 L473.6 60.6 L471.2 62.2 L468.2 63.2 L465.3 62.9 L465.5 64.9 L462.4 66.5 L458.5 67 L454.5 68.3 L449.4 66.8 L446.5 66.7 L440.9 66.5 L439.2 64.1 L436.2 63 L432.2 62.5 L432.2 61.3 L430.6 58.4 L427.4 57.3 L427.1 56.2 L426.3 56.2 L423.4 55.5 L419.5 53.3 L414.7 53.3 L410.7 49.7 L409.1 48.2 L404.3 48.5 L400.4 48.2 L396.4 46.5 L390.8 47.7 L384.5 48.7 L384.5 50.9 L385.2 52.8 L382.9 53.3 L379.7 53.2 L374.9 53.6 L372.5 52.8 L368.2 52.2 L365 54.9 L362.6 54.4 L361.7 57.1 L362.2 58.1 L364.2 58.9 L365.7 60.6 L366.9 62.9 L365.4 66 L365 67.9 L364.7 67.9 L363 68.9 L361.4 67.8 L359.8 66.8 L357.4 66.5 L355 65.7 L351 65.4 L348.6 65.2 L345.9 63.5 L345.8 62.2 L346.7 60.8 L348.3 59.5 L350.7 58.2 L350.7 56.8 L351 55.5 L348.6 55.1 L347.1 54.4 L343.9 54.3 L342 52.8 L340.7 51.2 L338 51.6 L335.9 52.8 L333.5 52.5 L331.1 52.5 L327.2 51.9 L324.9 52.5 L324.3 51.4 L325.4 50.6 L324.8 48.5 L323.7 48 L318.6 47.8 L318.4 46.2 L319.7 43 L321.6 39.5 L327.2 39.2 L331.1 38.8 L331.6 38.2 L335.1 36.1 L337.5 34.4 L335.9 32.3 L334.6 31.4 L335.1 29.9 L333.5 28.2 L335.1 26.8 L332.7 26 L333.5 24.7 L336.4 23.4Z" fill="#3aa803" stroke="#6a6a6a" stroke-width="0.45"/>
<path d="M0.9 19.9 L18.4 19.9 L18.4 32.6 L0.9 32.6Z" fill="#3aa803" stroke="#6a6a6a" stroke-width="0.45"/>
<path d="M329.7 57.6 L331.9 57.4 L333.8 58.2 L335.1 60.5 L333.4 60.6 L332.3 62.1 L332.1 60 L330.7 58.4Z" fill="#3aa803" stroke="#6a6a6a" stroke-width="0.45"/>
<path d="M273.2 67.8 L274.3 67.5 L276.9 67.7 L277.5 68.3 L276.4 69.2 L276.2 71.3 L275.6 71.6 L276.2 73.7 L275.6 75.3 L275.6 76.5 L278.5 77.2 L284.2 76.8 L290.6 74 L300.1 73.7 L305.7 74.6 L306.5 76.7 L312 76.7 L317.6 75.6 L320.8 77.2 L324 79.5 L329.7 79.5 L329.5 76.4 L328.4 74.8 L328.3 71.6 L328.1 70.3 L328.8 69.6 L329.4 68.1 L328.9 68.6 L327.2 68.7 L325.6 68.4 L324 68.7 L323.8 68.7 L323 67.1 L324 65.7 L323 64.4 L323.5 64.1 L323.2 63.3 L321.4 63.2 L321.6 62.5 L319.7 61.1 L321.1 60.6 L322.4 58.9 L323.8 58.1 L322.7 57.4 L320 57.3 L318.6 57.8 L317.3 58.4 L314.7 58.1 L314.3 57.1 L311.2 56.5 L309.7 57.1 L309.3 56.8 L307.3 55.4 L306.6 54.4 L310.1 53.3 L310.9 53.5 L311.2 53 L310.8 51.4 L309.8 50.3 L310.1 48.7 L308.1 47.3 L304.9 47.6 L305.2 42.3 L299.8 43.1 L299.8 47 L296.9 48.2 L298.8 49.7 L298.7 50.8 L298 51.9 L296.9 52 L297.2 53 L296.8 53.6 L296.4 53 L295.3 52.6 L294.1 52.7 L292.8 52.8 L290.6 52.4 L289.8 53.4 L285 54.8 L278.6 56.2 L277.8 58.9 L282.6 62.9 L283.4 64.8 L271.5 64 L271.5 67.8Z" fill="#3aa803" stroke="#6a6a6a" stroke-width="0.45"/>
<path d="M309 62.1 L310.4 62.1 L311.7 62.1 L312.4 60.9 L313.6 60.5 L315.2 61.3 L317.3 61.4 L317.6 62.1 L317.8 63 L318.2 63 L317.9 64.1 L318.4 65.1 L317.9 65.2 L319.7 66.3 L319.4 66.7 L318.6 66.8 L318.2 67.8 L316 67.9 L312 65.7 L308.7 63.3 L308.7 62.1Z" fill="#e1e1e1" stroke="#6a6a6a" stroke-width="0.45"/>
<path d="M328.8 69.6 L329.4 68.1 L331.1 67.6 L331.9 67.6 L333.5 68.3 L339.9 66.8 L346.3 67.9 L353.4 68.3 L353.5 68.4 L355.5 68.4 L356.6 69.1 L356.9 70.5 L358.7 71.3 L358 71.8 L357.7 74 L358.7 75.3 L355 75.3 L352.6 75.4 L348.6 75.9 L345.8 75.9 L345 77.3 L343.9 77.1 L342.3 77.1 L338.8 77.5 L335.1 77.3 L331.1 76.8 L330 74.8 L328.6 73.2 L328.4 70.8Z" fill="#3aa803" stroke="#6a6a6a" stroke-width="0.45"/>
<path d="M351 65.4 L355 65.7 L357.4 66.5 L359.8 66.8 L361.4 67.8 L363 68.9 L364.7 67.9 L367.7 70 L366.1 73.3 L365.2 73.3 L363.8 71.6 L361.4 72.5 L359 71.8 L358.7 71.3 L356.9 70.5 L356.6 69.1 L355.5 68.4 L353.5 68.4 L351.8 66.8Z" fill="#3aa803" stroke="#6a6a6a" stroke-width="0.45"/>
<path d="M345 77.3 L345.8 75.9 L348.6 75.9 L352.6 75.4 L354.8 75.4 L353.1 76.4 L352.9 79.1 L349.1 81.3 L349.8 83.2 L346.3 84.3 L347.8 85.9 L347.1 86.7 L344.7 88 L343.1 87.7 L342.9 87.5 L341.9 84.6 L341.5 83.5 L343.1 78.8 L344.2 77.2Z" fill="#3aa803" stroke="#6a6a6a" stroke-width="0.45"/>
<path d="M354.8 75.4 L358.7 75.3 L360.3 77.5 L359.6 80.3 L360.9 81.9 L363.4 83.8 L363.3 85.1 L364.7 86.9 L365 88.3 L364.4 89.1 L363.3 89.1 L361.4 88.1 L358.5 88 L354.2 85 L351.7 83.7 L349.8 83.2 L349.1 81.3 L352.9 79.1 L353.1 76.4Z" fill="#3aa803" stroke="#6a6a6a" stroke-width="0.45"/>
<path d="M343.1 87.7 L344.7 88 L347.1 86.7 L347.8 85.9 L346.3 84.3 L349.8 83.2 L351.7 83.7 L354.2 85 L358.5 88 L361.4 88.1 L363.3 89.1 L364.4 89.1 L366.1 89.9 L367.7 91.8 L367.7 94.7 L368.2 95.1 L368.5 95.3 L369.5 95.9 L371.1 98 L375.1 98.5 L376 99.4 L374.9 102.6 L370.1 104.2 L364.1 105.5 L361.2 107.1 L359.6 106.9 L356.4 106.6 L356.1 107.8 L355.5 108.3 L353.4 106.6 L348.6 101 L345.5 95.4 L342.6 90.7 L342.3 89.1 L342.9 87.7Z" fill="#3aa803" stroke="#6a6a6a" stroke-width="0.45"/>
<path d="M358.7 71.3 L359 71.8 L361.4 72.5 L363.8 71.6 L365.2 73.3 L366.1 73.5 L368.5 74.8 L372.5 74.6 L373.2 75.1 L374.6 74.9 L376.5 73.8 L378.6 73.7 L380.5 74.6 L381.7 74.8 L383.3 76.2 L384.8 76.2 L384.8 77.8 L383.8 79.9 L383.7 81 L384.3 84.3 L385.7 84.6 L384.3 87 L387.2 89.6 L387.3 91.2 L388 92.1 L385.7 92.7 L385.4 94.3 L380.5 94.8 L378.1 92.7 L377.3 91.9 L374.1 92.9 L370.9 91.5 L367.7 88.6 L365.4 87.2 L364.7 86.9 L363.3 85.1 L363.4 83.8 L360.9 81.9 L359.6 80.3 L360.3 77.5 L358.7 75.3 L357.7 74 L358 71.8Z" fill="#3aa803" stroke="#6a6a6a" stroke-width="0.45"/>
<path d="M384.8 77.8 L383.8 79.9 L383.7 81 L384.3 84.3 L385.7 84.6 L384.3 87 L386.8 87.7 L389.5 87.5 L392.9 86.9 L392.9 85.3 L395.3 84.5 L397.7 83.7 L397.7 81.8 L399.3 81.5 L398.8 80.3 L400.5 79.7 L401.3 77.5 L401.3 76.4 L403.5 75.7 L406.6 75.3 L402.8 75.1 L401.3 75.9 L400.8 73.7 L399.1 74.6 L397.7 75.4 L395.6 75.6 L395.3 75.3 L393.2 74.9 L391.8 74.9 L390.5 75.7 L390 76.7 L387.6 78 L386.5 78.4Z" fill="#3aa803" stroke="#6a6a6a" stroke-width="0.45"/>
<path d="M376.5 68.7 L376.5 62.9 L380.6 61.9 L384.6 64 L386 65.2 L390.7 64.9 L392.6 66.2 L393.2 67.6 L395.6 68.9 L397.3 68.6 L399.6 67.5 L400.7 67.3 L399.7 68.4 L401.5 68.4 L403.7 69.5 L401.5 70.5 L399.7 70.3 L399.4 69.2 L397.7 69.5 L397.2 70.5 L396.5 70.5 L394.6 71.6 L396.2 73.5 L395.3 75.3 L393.2 74.9 L389.5 72.5 L386.7 70.8 L385.9 69.1 L383 68.6 L382.9 67.3 L380.6 66.5 L378.7 67.3 L377.9 68.7Z" fill="#3aa803" stroke="#6a6a6a" stroke-width="0.45"/>
<path d="M397.7 71.4 L399.6 70.8 L401.5 70.5 L403.7 69.5 L401.5 68.4 L399.7 68.4 L400.7 67.3 L400.2 67.1 L401.6 66.3 L404.3 66.8 L405.5 65.7 L407.8 66.3 L413.3 66.3 L415 67.3 L412.1 68.6 L409.8 69.2 L408.6 70.2 L406.4 70 L404.8 71.1 L404.5 71.8 L401.5 71.8 L399.6 71.4Z" fill="#3aa803" stroke="#6a6a6a" stroke-width="0.45"/>
<path d="M395.9 96.9 L396.9 95.8 L400.4 95.6 L398.9 92.1 L398.1 91.2 L399.9 89.9 L403.4 88.3 L405 86.4 L405.8 85.4 L404.8 80.5 L405.9 78.4 L408.8 77.5 L411.2 78 L413.1 79.9 L412.9 81.5 L413.4 82.7 L412.6 84.3 L416.3 86.4 L427.6 90 L428.7 89.9 L433.2 90.2 L434.6 90 L437.8 88 L440.5 87.7 L442.2 89.6 L440.5 91 L438.9 91.9 L437.9 94.2 L438.1 96.2 L436 96.2 L435.7 99.1 L434.7 99.5 L434.3 101.8 L432.2 102.6 L425.8 102.6 L419.5 109.8 L416 113.7 L415.5 116.9 L413.7 118.7 L412.9 120.2 L410.7 122.3 L407.5 119.3 L403.5 110.6 L401.2 102.6 L395.6 100.2 L395.3 97.4Z" fill="#3aa803" stroke="#6a6a6a" stroke-width="0.45"/>
<path d="M416.3 86.4 L415.2 88.3 L420.3 90.2 L423.4 91.3 L427.6 91.8 L427.6 90 L424.2 89.9 L421.4 88.4 L418.2 86.5Z" fill="#e1e1e1" stroke="#6a6a6a" stroke-width="0.45"/>
<path d="M428.9 91 L430.3 91.9 L433.8 91.7 L433.9 90.7 L433.2 90.2 L431.1 89.6 L429.8 89.7Z" fill="#e1e1e1" stroke="#6a6a6a" stroke-width="0.45"/>
<path d="M429.1 100.2 L428.7 97.5 L427.6 95.4 L428.9 94.3 L427.9 92.6 L430.3 93.1 L430.3 94.2 L434.4 94.7 L432.7 96.1 L432.5 97 L433.5 97.8 L434.3 96.7 L434.7 99.5 L434.3 101.5 L433.8 102.6 L430.6 101Z" fill="#e1e1e1" stroke="#6a6a6a" stroke-width="0.45"/>
<path d="M434.3 101.5 L434.7 99.5 L435.7 99.1 L436 96.2 L438.1 96.2 L437.9 94.2 L438.9 91.9 L440.5 91 L442.2 89.6 L443.5 89.6 L444.5 90.7 L444.5 93.2 L442.7 95 L442.7 96.4 L444.8 97.5 L445.6 99.3 L446.8 100.2 L448.4 100.7 L446.7 102 L445.7 102.3 L443.5 103.1 L442.4 105 L443 106.1 L444.3 108.3 L443.7 110.2 L445.2 113.7 L445.9 115.6 L444.6 117.9 L444.5 118.5 L442.5 118.5 L441.7 112.1 L440.9 109.8 L437 109.8 L436.2 105.8 L433.5 102Z" fill="#ad6f05" stroke="#6a6a6a" stroke-width="0.45"/>
<path d="M459.3 100.1 L457.2 99.4 L457 98 L455 97.4 L452.7 98.6 L450 98.8 L451.1 99.9 L452.9 101.2 L454.3 102.6 L452.9 103.6 L454.8 104.8 L457 107.5 L458.3 109 L458.6 111 L458.5 112.5 L458.6 114.7 L456.7 115.5 L455.9 116 L455.8 117.1 L454.5 117.1 L453.6 117.9 L452.9 119.3 L454 121.4 L457.7 119.3 L462.1 116.1 L462.1 112.1 L460.5 108.5 L457.7 106.1 L456.4 104.2 L458.1 101.5 L459.7 100.7Z" fill="#3aa803" stroke="#6a6a6a" stroke-width="0.45"/>
<path d="M451.1 116 L450.3 112.9 L451.1 111.8 L454.2 111.5 L454.8 111.7 L456.1 111.6 L458.5 111 L458.5 112.5 L458.6 114.7 L456.7 115.5 L455.9 116 L455.8 117.1 L454.5 117.1 L453.6 117.9 L452.1 118.5 L451 117.2Z" fill="#ad6f05" stroke="#6a6a6a" stroke-width="0.45"/>
<path d="M437 124.2 L446.5 124.2 L446.7 124.1 L448.3 125.3 L449.4 125.2 L449.9 124.5 L451.3 124.2 L459.3 128 L465.6 125.7 L471.2 125.7 L472.8 126 L477.6 127.2 L489.5 127.2 L495.9 132 L503.8 133.6 L513.4 136.8 L522.9 137.6 L526.1 136 L534.1 140.8 L536.1 145.4 L534.1 153.6 L521.3 152 L517.3 149.7 L511.8 149.7 L507 148.8 L497.4 148.8 L490.3 148.8 L486.3 152 L475.2 150.4 L454.5 148.8 L437 131.2Z" fill="#ad6f05" stroke="#6a6a6a" stroke-width="0.45"/>
<path d="M484.7 70.8 L485.4 70.8 L486.3 70 L489.3 67.9 L491.4 68.6 L491.6 67.6 L493.8 66 L495.2 67 L495.5 67.6 L494.1 70.8 L494.1 80.3 L486.3 80.3 L484.7 74Z" fill="#ad6f05" stroke="#6a6a6a" stroke-width="0.45"/>
<path d="M266.4 90.4 L273.5 90.4 L273.5 88.8 L277.8 87.3 L281.6 85.6 L282.6 83.8 L285.5 83.2 L284.7 81.1 L284.5 79.5 L283.9 78.6 L283.4 77.2 L278.5 77.2 L276.2 78.8 L270.7 85.1 L269.9 89.1 L265.9 90.7Z" fill="#3aa803" stroke="#6a6a6a" stroke-width="0.45"/>
<path d="M301.1 75.6 L300.4 76.4 L300.6 79.2 L299.3 80.3 L301.7 83.4 L302.5 86.2 L303.6 85.7 L303.8 84 L305.7 82.7 L305.7 81.7 L306.5 80.3 L305.7 74.6 L301.7 74.3Z" fill="#3aa803" stroke="#6a6a6a" stroke-width="0.45"/>
<path d="M263.3 117.1 L265.6 115.8 L265.6 114.4 L269.2 114.7 L270.3 115.5 L272.6 114.7 L274.2 116.9 L274.6 118.2 L277.5 117.5 L278.6 117.9 L279.9 119 L283.1 119.3 L283.4 121.4 L282.3 123.6 L282.4 126.3 L281 127.2 L275.4 128.2 L268.6 124.2 L265.7 121 L262.7 117.7Z" fill="#ad6f05" stroke="#6a6a6a" stroke-width="0.45"/>
<path d="M266.2 120 L267.5 118.7 L269.5 118.5 L270.5 119.9 L271 120.9 L270.5 121.7 L269.1 123.4 L266.7 123.3 L265.1 120.1Z" fill="#e1e1e1" stroke="#6a6a6a" stroke-width="0.45"/>
<path d="M289.3 125 L288.3 123.3 L288.2 120.9 L287.4 117.7 L287.4 116.8 L288.8 116.9 L288.6 117.9 L289.6 119.6 L289.9 121.7 L289.9 123.4 L290.2 125Z" fill="#ad6f05" stroke="#6a6a6a" stroke-width="0.45"/>
<path d="M291.7 124.5 L291.8 120.1 L293.4 117.5 L293.1 115.8 L293.9 112.9 L296.9 112.6 L299.8 113.3 L302.6 114 L306.5 113.4 L309 112.6 L308.9 111.3 L312 107.5 L312.2 105 L312.7 102 L311.2 97.8 L325.6 103.4 L325.6 109.4 L323.8 110.1 L323.2 111.8 L322.2 114.2 L323.8 116.4 L323.8 117.1 L325.1 118.7 L324.9 120.4 L325.9 120.6 L326.8 118.8 L329.7 119.3 L331.9 119.6 L333.5 119 L334.3 118.3 L336.4 118.8 L338.9 115.8 L338.8 115 L340.2 115 L340 117.4 L341.3 119.3 L341.6 119.3 L342 117.5 L343.1 115.8 L344.8 114.2 L345.5 111.7 L347.7 110.7 L349.4 111.2 L352.3 112 L354.8 114.5 L353.9 116.9 L355.6 116.9 L355.3 117.5 L357.4 120.1 L362.2 121.7 L363.8 121.7 L359 126.5 L356.6 126.8 L354.2 127.9 L354.1 128.1 L352.3 127.7 L350.2 129 L348 128.7 L346.1 127.4 L344.5 127.1 L342.1 127.1 L341.5 127.7 L342.1 128.5 L343.1 131.5 L341.5 134.1 L341.3 136 L335.9 136.1 L334.5 136.6 L333.8 137.1 L333.5 138.7 L333.8 141.4 L334.2 141.6 L334.5 144 L336.2 147.5 L339.7 149.4 L340.2 149.7 L340.4 151.7 L340.4 154.2 L339.4 156.1 L340.2 156.8 L335.4 158.4 L335.8 159.3 L333.4 160 L330.3 163 L327.6 162.8 L324.6 162.5 L322.4 160.3 L322.4 155.2 L325.6 155.2 L325.6 151.8 L322.9 152.3 L322.4 150.1 L322.1 146.1 L318.4 145.6 L317.6 147.2 L315.2 147.3 L313.8 143.8 L308.1 143.8 L306.8 143.7 L305.7 142.4 L304.9 140.6 L306.3 140.2 L305.8 138.2 L307.3 138.1 L308.1 138.2 L310.3 137.4 L310.4 135.4 L309.5 134.4 L310.1 132.3 L308.5 132.3 L308.4 130.9 L305.4 130.9 L303 130.7 L302.2 129.6 L300.6 127.6 L297.7 128.4 L294.5 125.7 L291.7 125.2Z" fill="#ad6f05" stroke="#6a6a6a" stroke-width="0.45"/>
<path d="M306.1 162 L308.1 161.6 L309.7 162.2 L316.8 162.2 L320.8 163 L324.6 162.5 L327.6 162.8 L326.4 163.3 L324.5 163.2 L320.8 163.6 L320.8 169.6 L319.2 169.6 L319.2 179.8 L317.6 180.6 L315.1 180.3 L313.6 180.1 L311.2 179.1 L308.1 168 L304.9 162.4Z" fill="#ad6f05" stroke="#6a6a6a" stroke-width="0.45"/>
<path d="M355.8 152.8 L368.5 152.8 L368.5 175.9 L355.8 175.9Z" fill="#ad6f05" stroke="#6a6a6a" stroke-width="0.45"/>
<path d="M545.2 165.6 L552.4 165.6 L552.4 171.2 L545.2 171.2Z" fill="#3aa803" stroke="#6a6a6a" stroke-width="0.45"/>
<path d="M168 106.9 L173.3 106.9 L173.3 106.3 L172.9 104.5 L173.3 102.9 L173.3 102.1 L168 102.1Z" fill="#ad6f05" stroke="#6a6a6a" stroke-width="0.45"/>
<path d="M261.1 108.8 L265.1 108 L268 110.9 L269.2 114.7 L265.6 114.4 L265.6 115.8 L263.3 117.1 L261.1 116.9 L259 114.5 L258.7 111 L260.3 108.6Z" fill="#f3f3f3" stroke="#6a6a6a" stroke-width="0.45"/>
<path d="M427.1 56.2 L429.8 54.4 L433.8 53.8 L438.6 54.9 L443.3 53.9 L443.8 51.7 L450 52.7 L450.2 54.1 L454.5 54.3 L459.3 55.7 L464 56 L468.8 54.6 L473.1 55.2 L474.8 55.7" fill="none" stroke="#808080" stroke-width="0.55"/>
<path d="M331.6 39.8 L331 42.8 L332.3 45 L336.5 46 L336.7 47.4 L339.4 49.5 L338 51.6" fill="none" stroke="#808080" stroke-width="0.55"/>
<path d="M326 42.3 L331 42.8" fill="none" stroke="#808080" stroke-width="0.55"/>
<path d="M320.8 45.2 L327.2 44.9 L329.7 45.8 L332.3 45" fill="none" stroke="#808080" stroke-width="0.55"/>
<path d="M323.7 48 L324.8 48.5 L328 48.2 L329.7 45.8" fill="none" stroke="#808080" stroke-width="0.55"/>
<path d="M292.5 67 L290.1 66.8 L288.5 66.3 L286.6 66.3 L284.5 65.6" fill="none" stroke="#808080" stroke-width="0.55"/>
<path d="M291.5 53.2 L294.1 54.9 L296.6 55.7 L297.6 55.7 L300.4 56.5 L299.5 58.7 L296.9 60.9 L298.5 61.4 L298.2 63.6 L299.3 64.8" fill="none" stroke="#808080" stroke-width="0.55"/>
<path d="M299.5 58.7 L302.6 58.9 L304.1 59 L308.1 58.9 L308.1 57.6 L309.3 56.8" fill="none" stroke="#808080" stroke-width="0.55"/>
<path d="M298.5 61.4 L300.9 60.8 L304.1 60 L306.8 59.7 L309.2 60.5 L309 62.1" fill="none" stroke="#808080" stroke-width="0.55"/>
<path d="M302.6 58.9 L302.6 59.7 L304.1 60" fill="none" stroke="#808080" stroke-width="0.55"/>
<path d="M309.2 60.5 L313 60 L313.6 58.9 L314.7 58.1" fill="none" stroke="#808080" stroke-width="0.55"/>
<path d="M313 60 L313.6 60.5" fill="none" stroke="#808080" stroke-width="0.55"/>
<path d="M317.3 61.4 L319.7 61.1" fill="none" stroke="#808080" stroke-width="0.55"/>
<path d="M318.2 67.8 L320 67.3 L321.6 67.1 L323 67.1" fill="none" stroke="#808080" stroke-width="0.55"/>
<path d="M319.2 71.3 L320.8 69.5 L323.8 68.7" fill="none" stroke="#808080" stroke-width="0.55"/>
<path d="M301.1 47.1 L303.1 47.3" fill="none" stroke="#808080" stroke-width="0.55"/>
<path d="M310 114.7 L310.6 116.1 L308.5 118.3 L306.8 121 L305.4 123.7 L303.4 123.4 L301.7 125 L301.1 126.9" fill="none" stroke="#808080" stroke-width="0.55"/>
<path d="M310 114.7 L311.2 118.5 L309.7 118.5 L312 122.5 L317 121.7 L317.6 120.1 L321.9 117.5 L323.8 117.1" fill="none" stroke="#808080" stroke-width="0.55"/>
<path d="M312 122.5 L310.4 124.9 L310.8 127.1 L312.5 129.5 L313.2 130.9 L308.4 130.9" fill="none" stroke="#808080" stroke-width="0.55"/>
<path d="M313.2 130.9 L317 128.8 L317 127.4 L318.4 126.3 L323 127.9 L326.2 126.3 L331 126.3" fill="none" stroke="#808080" stroke-width="0.55"/>
<path d="M317 128.8 L315.7 133.6 L313.2 137.6 L312.8 140.8 L311.2 141.8 L308.7 142.1 L308.1 143.8" fill="none" stroke="#808080" stroke-width="0.55"/>
<path d="M324.9 120.4 L327.6 122.8 L331 126.3 L334.3 127.2 L336.5 128.8 L341.5 127.7" fill="none" stroke="#808080" stroke-width="0.55"/>
<path d="M341.3 119.3 L339.9 121.8 L343.1 125.7 L344.5 127.1" fill="none" stroke="#808080" stroke-width="0.55"/>
<path d="M336.5 128.8 L337.2 130.9 L334.6 133.1 L334.5 136.6" fill="none" stroke="#808080" stroke-width="0.55"/>
<path d="M325.6 151.8 L327.6 152.3 L330.8 153.6 L332.7 154.4 L333.5 155.8 L334.8 155.8 L334.8 153.9 L332.6 153.3 L332.9 148.8 L336.2 147.5" fill="none" stroke="#808080" stroke-width="0.55"/>
<path d="M406.6 75.3 L408.3 77.2 L408.8 77.5" fill="none" stroke="#808080" stroke-width="0.55"/>
<path d="M376.5 68.7 L375.5 68.7 L373.6 67.1 L370.9 67.9" fill="none" stroke="#808080" stroke-width="0.55"/>
<path d="M273.5 91 L279.7 94.7 L289.3 100.9 L292.6 104.2 L294.1 104 L296.9 103.4 L299.3 101.3 L306.5 97 L303.1 95.4 L302.5 92.6 L303.1 89.1 L302.5 86.2" fill="none" stroke="#808080" stroke-width="0.55"/>
<path d="M279.7 94.7 L277.3 101 L278.8 108.5 L278.5 109.8 L272.6 109.8 L270.3 109.9 L269.1 109.6 L268 110.9 L269.2 114.7" fill="none" stroke="#808080" stroke-width="0.55"/>
<path d="M268 110.9 L265.1 108 L261.1 109" fill="none" stroke="#808080" stroke-width="0.55"/>
<path d="M294.1 104 L294.1 108.3 L292.9 109.9 L289 110.6 L287.7 110.6 L284.2 111.8 L281 113.4 L278.9 115.6 L278.6 117.9" fill="none" stroke="#808080" stroke-width="0.55"/>
<path d="M287.7 110.6 L288.8 112.8 L291.2 114.8" fill="none" stroke="#808080" stroke-width="0.55"/>
<path d="M283.1 119.3 L282.9 116.9 L287.4 116.8 L288.6 117.1" fill="none" stroke="#808080" stroke-width="0.55"/>
<path d="M291.7 124.5 L291.8 120.1 L293.4 117.5 L293.1 115.8" fill="none" stroke="#808080" stroke-width="0.55"/>
<path d="M306.5 97 L311.2 97.8" fill="none" stroke="#808080" stroke-width="0.55"/>
<path d="M327.2 84.2 L327.2 99.4 L327.2 102.6 L325.6 102.6 L325.6 103.4" fill="none" stroke="#808080" stroke-width="0.55"/>
<path d="M327.2 99.4 L346.1 99.4" fill="none" stroke="#808080" stroke-width="0.55"/>
<path d="M345.5 111.7 L346.3 107.4 L348.8 105.8" fill="none" stroke="#808080" stroke-width="0.55"/>
<path d="M341.3 136 L347.2 139.2 L349.8 141.9" fill="none" stroke="#808080" stroke-width="0.55"/>
<path d="M353.4 137.1 L352.6 135.8 L352.6 129.9 L354.1 128.1" fill="none" stroke="#808080" stroke-width="0.55"/>
<path d="M342.9 152.9 L347.1 153.1 L351.7 151.2" fill="none" stroke="#808080" stroke-width="0.55"/>
<path d="M340.2 149.7 L342 149.9 L342.9 152.9 L342.4 156 L344.5 158.2 L343.5 161.7 L342 160 L340.2 156.8" fill="none" stroke="#808080" stroke-width="0.55"/>
<path d="M335.8 159.3 L339.9 161.1 L339.7 164 L338.9 168.4 L337.2 170.2 L338.3 173.6 L338.3 175.9 L339.7 177.4" fill="none" stroke="#808080" stroke-width="0.55"/>
<path d="M327.6 162.8 L331.5 168.1 L334.2 169.9 L337.2 170.2" fill="none" stroke="#808080" stroke-width="0.55"/>
<path d="M319.2 174 L320.3 177.4 L323.8 174.8 L328.1 175.3 L330.3 172.1 L334.2 169.9" fill="none" stroke="#808080" stroke-width="0.55"/>
<path d="M330.5 181.7 L332.9 180.1 L334.2 181.4 L332.4 183.3 L330.8 182.7 L330.5 181.7" fill="none" stroke="#808080" stroke-width="0.55"/>
<path d="M336.7 175.6 L338.3 175.9 L338.5 177.4 L336.7 177.9 L336.4 176.6 L336.7 175.6" fill="none" stroke="#808080" stroke-width="0.55"/>
<path d="M335.9 136.1 L336.4 138.2 L335.9 140.2 L334.2 141.6" fill="none" stroke="#808080" stroke-width="0.55"/>
<path d="M353.9 116.9 L354.8 114.5" fill="none" stroke="#808080" stroke-width="0.55"/>
<path d="M426.3 56.2 L423.8 59.4 L419.5 59.4 L418.4 62.1 L416 65.7 L415 67.3" fill="none" stroke="#808080" stroke-width="0.55"/>
<path d="M404.5 71.8 L406.6 75.3" fill="none" stroke="#808080" stroke-width="0.55"/>
<path d="M446.7 102 L447.3 103.4 L448.4 103.4 L448.6 106.1 L449.9 105.5 L451.9 105.1 L454 106.7 L454.2 108.3 L455.4 109.6 L454.8 111.7" fill="none" stroke="#808080" stroke-width="0.55"/>
<path d="M448.4 100.7 L449.4 100.7 L450 98.8" fill="none" stroke="#808080" stroke-width="0.55"/>
<path d="M370.1 104.2 L371.9 107.9" fill="none" stroke="#808080" stroke-width="0.55"/>
<path d="M376 99.4 L375.2 98.3 L376.5 96.2 L377.1 94.8" fill="none" stroke="#808080" stroke-width="0.55"/>
<path d="M305.2 40.6 L306.9 37.4 L306.8 33.4 L309.7 31.8 L312 29 L316 25.5 L320 24.7 L324.8 25.2 L328.3 24.5 L328.7 23.1 L331.9 22.9 L333.5 24.7" fill="none" stroke="#808080" stroke-width="0.55"/>
<path d="M320 24.7 L324.8 27.1 L325.4 29.1 L325.9 29.8" fill="none" stroke="#808080" stroke-width="0.55"/>
<path d="M324.9 52.5 L325.6 54.1 L323.5 56.2 L323.2 56.3 L322.7 57.4" fill="none" stroke="#808080" stroke-width="0.55"/>
<path d="M310.9 53.5 L313.6 54.4 L317.3 55.7 L323.2 56.3" fill="none" stroke="#808080" stroke-width="0.55"/>
<path d="M317.3 55.7 L314.4 57.1" fill="none" stroke="#808080" stroke-width="0.55"/>
<path d="M323.8 58.1 L326.8 58.4 L329.7 57.6" fill="none" stroke="#808080" stroke-width="0.55"/>
<path d="M323.5 64.1 L328 64.9 L330.3 64.3 L332.9 64.9" fill="none" stroke="#808080" stroke-width="0.55"/>
<path d="M296.8 53.6 L294.1 54.9 L291.5 53.2" fill="none" stroke="#808080" stroke-width="0.55"/>
<path d="M161.8 132.2 L164 133.1 L167.5 134.6 L167.2 136.8 L162.8 139.8 L161.6 142.4 L159.6 139.8" fill="none" stroke="#808080" stroke-width="0.55"/>
<path d="M167.5 134.6 L171.2 138.1 L175.5 138.4 L176.1 141.1" fill="none" stroke="#808080" stroke-width="0.55"/>
<path d="M176.8 152 L178 154.4 L177.6 157.6 L176.9 159.5 L177.2 160.8 L176.8 162.5" fill="none" stroke="#808080" stroke-width="0.55"/>
<path d="M180.4 170.8 L182 169.2 L185 170.8 L187.6 169.9 L188.7 167.2 L192 165.2 L194.7 166 L194.9 166.7" fill="none" stroke="#808080" stroke-width="0.55"/>
<path d="M187.6 169.9 L190.3 172.4 L195.1 174.4 L195.7 175.1 L194.1 177.9 L198.2 178 L200.5 175.3" fill="none" stroke="#808080" stroke-width="0.55"/>
<path d="M180.7 132.5 L181.9 133.1 L183.1 133.1 L185.5 131.2 L185 127.9 L187.4 128.5 L190.3 127.2 L190.8 126.1 L189.7 125 L190.1 123.7 L191.4 123.3 L192.2 121.2" fill="none" stroke="#808080" stroke-width="0.55"/>
<path d="M190.8 126.1 L191.9 126.5 L192.2 128.7 L192 130.7 L193.8 132.5 L197.5 131.4 L200.6 130.7" fill="none" stroke="#808080" stroke-width="0.55"/>
<path d="M196.3 125 L196.2 126 L195.1 128 L196.2 129.2 L197.5 131.4" fill="none" stroke="#808080" stroke-width="0.55"/>
<path d="M140.6 111.2 L140.6 110.1 L141.4 108.8 L143.5 108.8 L142.5 107 L142.5 106.1 L145.5 106.1 L146.8 105" fill="none" stroke="#808080" stroke-width="0.55"/>
<path d="M145.5 106.1 L145.4 109.1 L146.8 109.4" fill="none" stroke="#808080" stroke-width="0.55"/>
<path d="M145.4 109.1 L145.2 111.5 L144 112.5" fill="none" stroke="#808080" stroke-width="0.55"/>
<path d="M155 110.6 L152.1 111 L149.4 113.3 L148.3 113.7" fill="none" stroke="#808080" stroke-width="0.55"/>
<path d="M154.2 117.1 L151 116.8" fill="none" stroke="#808080" stroke-width="0.55"/>
<path d="M155.9 119.1 L155.4 121.5" fill="none" stroke="#808080" stroke-width="0.55"/>
<path d="M173.3 102.9 L172.9 104.5 L173.3 106.3" fill="none" stroke="#808080" stroke-width="0.55"/>
<path d="M260.6 112.8 L263.5 112.5 L265.4 113.1 L263.5 113.4 L260.6 113.6" fill="none" stroke="#808080" stroke-width="0.55"/>
<path d="M260.8 114.7 L263.5 114.2 L265.6 114.4" fill="none" stroke="#808080" stroke-width="0.55"/>
<path d="M169.8 201.2 L168.6 204.7 L168 207.6 L167.1 209.5 L167.1 212.7 L167.7 216.2 L169.3 218.8 L172.3 221.3 L175.6 223.1 L179.1 223.6 L181.5 222.9" fill="none" stroke="#6e6e6e" stroke-width="4.4" stroke-linejoin="round" opacity="0.9"/>
<path d="M296.6 41.2 L295.3 39 L295.3 35.8 L298.5 34.2 L303.3 32.6 L306.5 30.3 L309.7 27.1 L312.8 25.2 L317.6 23.4 L322.4 22.6 L328 21.5 L331.9 21.5" fill="none" stroke="#5a5a5a" stroke-width="1.6" stroke-linejoin="round" opacity="0.9"/>
</g>
<path d="M362.2 62.9 L365.4 60.5 L368.5 59.7 L371.7 60.1 L371.7 62.4 L368.5 63.6 L367.4 64 L370.9 66.5 L371.4 68.4 L373 69.5 L371.7 71.6 L373.3 74.8 L370.1 75.9 L367.3 75.1 L365.4 73.5 L365.8 70.3 L363.8 67.9 L363 66 L361.9 64Z" fill="#fff" stroke="#6a6a6a" stroke-width="0.55"/>
<use href="#lnd" fill="none" stroke="#6a6a6a" stroke-width="0.55" stroke-linejoin="round"/>
<path d="M70.4 42.2 L72.5 43.6 L74.7 45.4 L76.3 47 L78.2 48.1" fill="none" stroke="#7a7a7a" stroke-width="1.5" stroke-linecap="round" stroke-linejoin="round"/>
<path d="M80 49.3 L82.1 51.1 L83.3 52.4" fill="none" stroke="#808080" stroke-width="1.1" stroke-linecap="round" stroke-linejoin="round"/>
</g>
<g id="legend">
<text class="b" x="32.5" y="103.8">a</text>
<rect x="6.5" y="127" width="24.7" height="11.7" fill="#3aa803"/>
<text class="t" x="38.6" y="136">Consistently</text>
<text class="t" x="47" y="147.2">net-gaining (N = 45)</text>
<rect x="6.5" y="156.7" width="24.7" height="11.8" fill="#ad6f05"/>
<text class="t" x="38.6" y="166.5">Consistently</text>
<text class="t" x="47" y="177.3">net-losing (N = 40)</text>
<rect x="6.7" y="186.8" width="24.4" height="12" fill="#e1e1e1" stroke="#9a9a9a" stroke-width="0.5"/>
<text class="t" x="38.6" y="195.5">Other countries</text>
</g>
<g id="chartb">
<rect x="74.5" y="264.256" width="11.5" height="140.494" fill="#ad6f05" stroke="#7a5a1a" stroke-width="0.5"/>
<rect x="89.3" y="385" width="12.1" height="19.7496" fill="#3aa803" stroke="#5b7a2a" stroke-width="0.5"/>
<rect x="127.2" y="317.702" width="11.8" height="87.048" fill="#ad6f05" stroke="#7a5a1a" stroke-width="0.5"/>
<rect x="142.2" y="348.996" width="12" height="55.7544" fill="#3aa803" stroke="#5b7a2a" stroke-width="0.5"/>
<rect x="180.1" y="350.992" width="11.9" height="53.7576" fill="#ad6f05" stroke="#7a5a1a" stroke-width="0.5"/>
<rect x="195" y="327.062" width="12.2" height="77.688" fill="#3aa803" stroke="#5b7a2a" stroke-width="0.5"/>
<rect x="233" y="390.741" width="12" height="14.0088" fill="#ad6f05" stroke="#7a5a1a" stroke-width="0.5"/>
<rect x="248" y="302.508" width="12" height="102.242" fill="#3aa803" stroke="#5b7a2a" stroke-width="0.5"/>
<path d="M61.2 248.75 V404.75 H272.6" fill="none" stroke="#111" stroke-width="1.15"/>
<path d="M58.2 404.75 H61.2" stroke="#111" stroke-width="1"/>
<text class="ax" x="53.6" y="408.6" text-anchor="end">0</text>
<path d="M58.2 389.15 H61.2" stroke="#111" stroke-width="1"/>
<text class="ax" x="53.6" y="393" text-anchor="end">5</text>
<path d="M58.2 373.55 H61.2" stroke="#111" stroke-width="1"/>
<text class="ax" x="53.6" y="377.4" text-anchor="end">10</text>
<path d="M58.2 357.95 H61.2" stroke="#111" stroke-width="1"/>
<text class="ax" x="53.6" y="361.8" text-anchor="end">15</text>
<path d="M58.2 342.35 H61.2" stroke="#111" stroke-width="1"/>
<text class="ax" x="53.6" y="346.2" text-anchor="end">20</text>
<path d="M58.2 326.75 H61.2" stroke="#111" stroke-width="1"/>
<text class="ax" x="53.6" y="330.6" text-anchor="end">25</text>
<path d="M58.2 311.15 H61.2" stroke="#111" stroke-width="1"/>
<text class="ax" x="53.6" y="315" text-anchor="end">30</text>
<path d="M58.2 295.55 H61.2" stroke="#111" stroke-width="1"/>
<text class="ax" x="53.6" y="299.4" text-anchor="end">35</text>
<path d="M58.2 279.95 H61.2" stroke="#111" stroke-width="1"/>
<text class="ax" x="53.6" y="283.8" text-anchor="end">40</text>
<path d="M58.2 264.35 H61.2" stroke="#111" stroke-width="1"/>
<text class="ax" x="53.6" y="268.2" text-anchor="end">45</text>
<path d="M58.2 248.75 H61.2" stroke="#111" stroke-width="1"/>
<text class="ax" x="53.6" y="252.6" text-anchor="end">50</text>
<path d="M61.2 404.75 V407.55" stroke="#111" stroke-width="1"/>
<path d="M114.2 404.75 V407.55" stroke="#111" stroke-width="1"/>
<path d="M167 404.75 V407.55" stroke="#111" stroke-width="1"/>
<path d="M219.8 404.75 V407.55" stroke="#111" stroke-width="1"/>
<path d="M272.6 404.75 V407.55" stroke="#111" stroke-width="1"/>
<text class="c" x="87.6" y="420.3" text-anchor="middle">Low</text>
<text class="c" x="140.6" y="420.3" text-anchor="middle">Lower</text>
<text class="c" x="140.6" y="431.5" text-anchor="middle">middle</text>
<text class="c" x="193.6" y="420.3" text-anchor="middle">Upper</text>
<text class="c" x="193.6" y="431.5" text-anchor="middle">middle</text>
<text class="c" x="246.4" y="420.3" text-anchor="middle">High</text>
<text class="ttl" x="166" y="460.4" text-anchor="middle">WB regions</text>
<text class="ttl" transform="translate(29.7 324.5) rotate(-90)" text-anchor="middle">Countries (%)</text>
<text class="b" x="164" y="273">b</text>
</g>
<g id="chartc">
<path d="M393.4 354.51 V373.21 M393.4 400.27 V402.25 M389.1 354.51 H397.7 M389.1 402.25 H397.7" stroke="#444" stroke-width="0.9" fill="none"/>
<rect x="378.3" y="373.21" width="30.2" height="27.06" fill="#3aa803" stroke="#3c3c3c" stroke-width="0.8"/>
<path d="M378.3 383.55 H408.5" stroke="#3c3c3c" stroke-width="0.9"/>
<path d="M390.1 373.05 l6.6 5.6 m0 -5.6 l-6.6 5.6" stroke="#333" stroke-width="0.85" fill="none"/>
<path d="M464.1 329.87 V360.67 M464.1 388.39 V401.81 M459.8 329.87 H468.4 M459.8 401.81 H468.4" stroke="#444" stroke-width="0.9" fill="none"/>
<rect x="449" y="360.67" width="30.2" height="27.72" fill="#3aa803" stroke="#3c3c3c" stroke-width="0.8"/>
<path d="M449 379.37 H479.2" stroke="#3c3c3c" stroke-width="0.9"/>
<path d="M460.8 370.63 l6.6 5.6 m0 -5.6 l-6.6 5.6" stroke="#333" stroke-width="0.85" fill="none"/>
<path d="M535.65 293.13 V336.47 M535.65 371.67 V405.33 M531.35 293.13 H539.95 M531.35 405.33 H539.95" stroke="#444" stroke-width="0.9" fill="none"/>
<rect x="520.3" y="336.47" width="30.7" height="35.2" fill="#3aa803" stroke="#3c3c3c" stroke-width="0.8"/>
<path d="M520.3 346.59 H551" stroke="#3c3c3c" stroke-width="0.9"/>
<path d="M532.35 347.75 l6.6 5.6 m0 -5.6 l-6.6 5.6" stroke="#333" stroke-width="0.85" fill="none"/>
<circle cx="393.3" cy="262.7" r="1.55" fill="#3aa803" stroke="#1f3f12" stroke-width="0.8"/>
<path d="M362.5 251.55 V405.55" fill="none" stroke="#111" stroke-width="1.15"/>
<path d="M359.3 405.55 H362.3" stroke="#111" stroke-width="1"/>
<text class="ax" x="356.4" y="409.3" text-anchor="end">0</text>
<path d="M359.3 383.55 H362.3" stroke="#111" stroke-width="1"/>
<text class="ax" x="356.4" y="387.3" text-anchor="end">10</text>
<path d="M359.3 361.55 H362.3" stroke="#111" stroke-width="1"/>
<text class="ax" x="356.4" y="365.3" text-anchor="end">20</text>
<path d="M359.3 339.55 H362.3" stroke="#111" stroke-width="1"/>
<text class="ax" x="356.4" y="343.3" text-anchor="end">30</text>
<path d="M359.3 317.55 H362.3" stroke="#111" stroke-width="1"/>
<text class="ax" x="356.4" y="321.3" text-anchor="end">40</text>
<path d="M359.3 295.55 H362.3" stroke="#111" stroke-width="1"/>
<text class="ax" x="356.4" y="299.3" text-anchor="end">50</text>
<path d="M359.3 273.55 H362.3" stroke="#111" stroke-width="1"/>
<text class="ax" x="356.4" y="277.3" text-anchor="end">60</text>
<path d="M359.3 251.55 H362.3" stroke="#111" stroke-width="1"/>
<text class="ax" x="356.4" y="255.3" text-anchor="end">70</text>
<text class="c" x="393.5" y="420.3" text-anchor="middle">Low and</text>
<text class="c" x="393.5" y="432.2" text-anchor="middle">lower middle</text>
<text class="sm" x="393.5" y="442.3" text-anchor="middle">(11, 14%)</text>
<text class="c" x="465" y="420.3" text-anchor="middle">Upper middle</text>
<text class="sm" x="465" y="442.2" text-anchor="middle">(13, 25%)</text>
<text class="c" x="536.8" y="420.3" text-anchor="middle">High</text>
<text class="sm" x="536.8" y="439.4" text-anchor="middle">(21, 33%)</text>
<text class="ttl" x="465" y="460.9" text-anchor="middle">WB regions</text>
<text class="ttl" transform="translate(331.9 323.6) rotate(-90)" text-anchor="middle">Forest coverage in 1960 (%)</text>
<text class="b" x="458.8" y="273.8">c</text>
</g>
</svg>
</body></html>
